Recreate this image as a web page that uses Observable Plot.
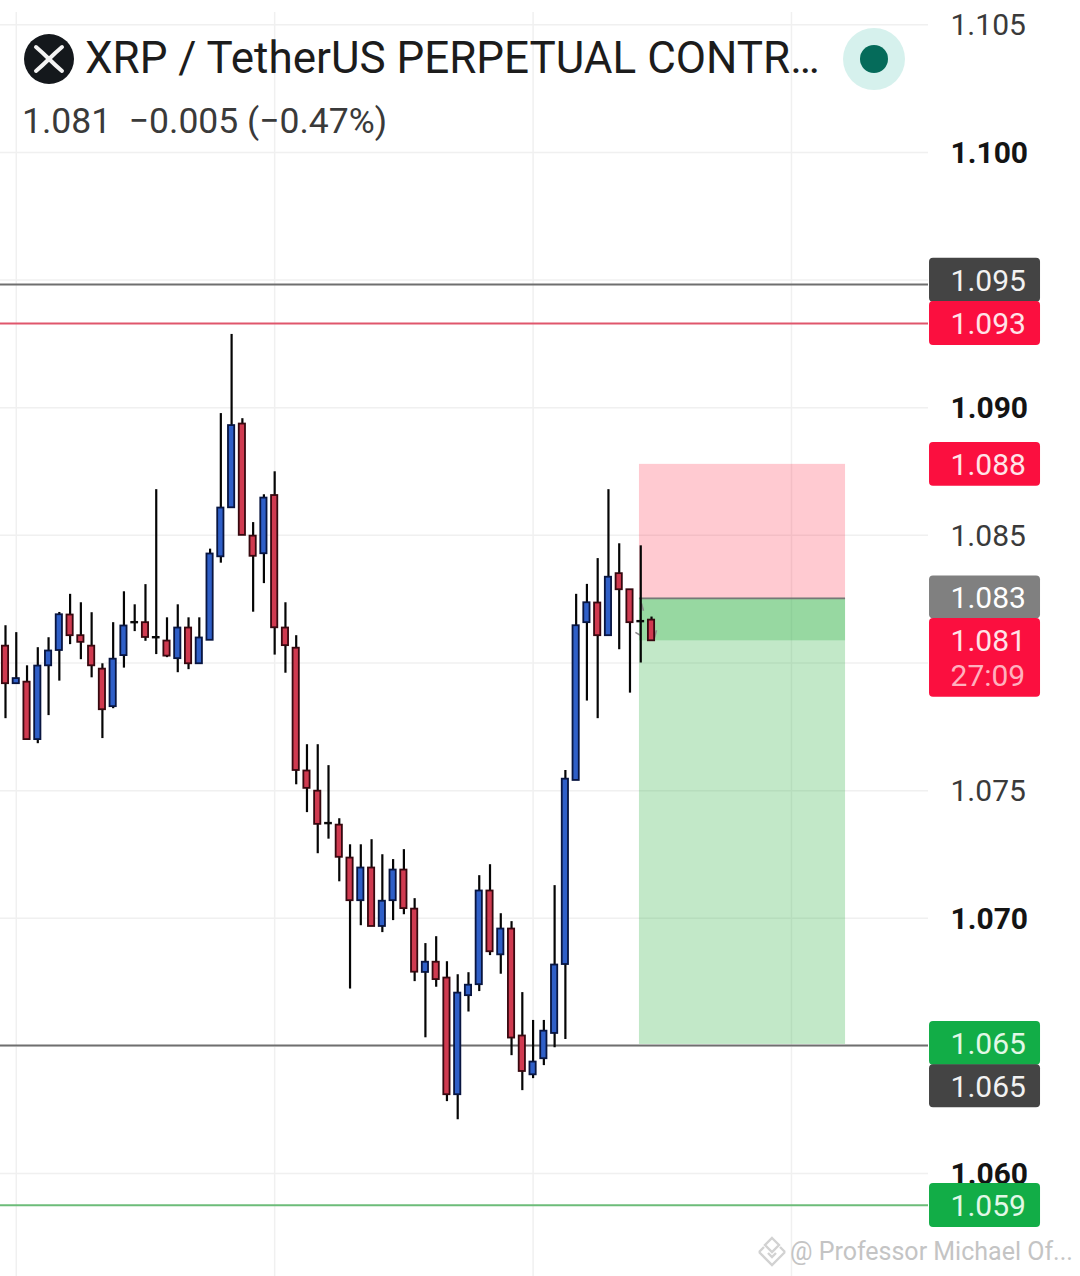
<!DOCTYPE html>
<html>
<head>
<meta charset="utf-8">
<script src="https://cdn.jsdelivr.net/npm/d3@7"></script>
<script src="https://cdn.jsdelivr.net/npm/@observablehq/plot@0.6"></script>
<style>
  html, body { margin: 0; padding: 0; background: #fff; }
  #wrap { position: relative; width: 1080px; height: 1276px; overflow: hidden; font-family: Roboto, sans-serif; }
  #chart svg { display: block; }
  .abs { position: absolute; white-space: pre; }
</style>
</head>
<body>
<div id="wrap">
  <div id="chart"></div>
  <svg class="abs" style="left:23px;top:33px" width="52" height="52" viewBox="0 0 52 52">
    <circle cx="26" cy="26" r="25" fill="#14181c"/>
    <path d="M13 14 Q20 20 26 26 Q32 20 39 14 M13 38 Q20 32 26 26 Q32 32 39 38" fill="none" stroke="#f4f4f4" stroke-width="4" stroke-linecap="round"/>
  </svg>
  <div class="abs" id="title" style="left:85px;top:31px;font-size:44px;line-height:54px;color:#1c1c1c">XRP / TetherUS PERPETUAL CONTR…</div>
  <div class="abs" id="sub" style="left:22px;top:100px;font-size:35.5px;line-height:42px;color:#3a3a3a">1.081  −0.005 (−0.47%)</div>
  <svg class="abs" style="left:843px;top:28px" width="62" height="62">
    <circle cx="31" cy="31" r="31" fill="#d6f1ed"/>
    <circle cx="31" cy="31" r="14" fill="#056b5a"/>
  </svg>
  <svg class="abs" style="left:756px;top:1236px" width="32" height="32" viewBox="0 0 32 32" fill="none" stroke="#d2d2d2" stroke-width="2.4">
    <path d="M16 2 L23 9 L16 16 L9 9 Z"/><path d="M3 16 L8 11 M29 16 L24 11 M3 16 L16 29 L29 16"/><path d="M12 17 L16 21 L20 17"/>
  </svg>
  <div class="abs" id="mark" style="left:790px;top:1237px;font-size:25px;line-height:30px;color:#c4c4c4">@ Professor Michael Of...</div>
</div>
<script>
const open = [1.08066,1.07919,1.07925,1.07700,1.07989,1.08049,1.08188,1.08107,1.08066,1.07976,
  1.07829,1.08029,1.08160,1.08158,1.08101,1.08086,1.08017,1.08137,1.07997,1.08089,
  1.08416,1.08608,1.08936,1.08497,1.08428,1.08656,1.08137,1.08058,1.07577,1.07498,
  1.07373,1.07365,1.07236,1.07069,1.07197,1.06968,1.07069,1.07189,1.07036,1.06788,
  1.06828,1.06766,1.06309,1.06697,1.06740,1.07107,1.06857,1.06958,1.06539,1.06387,
  1.06450,1.06549,1.06819,1.07540,1.08158,1.08235,1.08107,1.08350,1.08287,1.08164,1.08168];
const close = [1.07919,1.07939,1.07700,1.07988,1.08047,1.08189,1.08107,1.08081,1.07989,1.07817,
  1.08015,1.08145,1.08160,1.08100,1.08101,1.08027,1.08137,1.07997,1.08098,1.08427,
  1.08607,1.08930,1.08500,1.08418,1.08646,1.08138,1.08068,1.07579,1.07509,1.07368,
  1.07373,1.07239,1.07069,1.07197,1.06968,1.07067,1.07189,1.07038,1.06789,1.06828,
  1.06760,1.06309,1.06707,1.06738,1.07107,1.06869,1.06958,1.06531,1.06400,1.06437,
  1.06558,1.06817,1.07545,1.08146,1.08236,1.08107,1.08336,1.08287,1.08158,1.08164,1.08087];
const high = [1.08146,1.08119,1.07989,1.08060,1.08099,1.08198,1.08269,1.08236,1.08197,1.07997,
  1.08158,1.08279,1.08228,1.08307,1.08679,1.08177,1.08228,1.08177,1.08177,1.08446,
  1.08977,1.09287,1.08957,1.08550,1.08659,1.08749,1.08236,1.08107,1.07680,1.07680,
  1.07598,1.07390,1.07288,1.07288,1.07308,1.07249,1.07230,1.07269,1.07077,1.06901,
  1.06928,1.06830,1.06779,1.06787,1.07167,1.07210,1.07018,1.06987,1.06709,1.06600,
  1.06600,1.07128,1.07579,1.08269,1.08308,1.08409,1.08679,1.08467,1.08287,1.08459,1.08180];
const low = [1.07782,1.07919,1.07700,1.07684,1.07794,1.07929,1.08072,1.08013,1.07942,1.07704,
  1.07821,1.07980,1.08123,1.08085,1.08033,1.08021,1.07962,1.07974,1.07995,1.08089,
  1.08391,1.08608,1.08500,1.08199,1.08311,1.08031,1.07960,1.07523,1.07414,1.07253,
  1.07310,1.07143,1.06723,1.06971,1.06968,1.06944,1.06991,1.07014,1.06752,1.06532,
  1.06730,1.06282,1.06211,1.06633,1.06713,1.06854,1.06781,1.06462,1.06325,1.06372,
  1.06423,1.06493,1.06525,1.07540,1.07851,1.07782,1.08107,1.08052,1.07882,1.08000,1.08087];

const regularTicks = [1.105, 1.085, 1.075];
const boldTicks = [1.100, 1.090, 1.070, 1.060];
const gridPrices = [1.105, 1.100, 1.095, 1.090, 1.085, 1.080, 1.075, 1.070, 1.065, 1.060];
const gridBars = [1, 25, 49, 73];

const linePrices = [1.09483, 1.09330, 1.06502, 1.05876];
const lineKinds = ["dark", "red", "dark", "green"];

const tagLabels = ["1.095", "1.093", "1.088", "1.083", "1.081", "1.065", "1.065", "1.059"];
const tagPrices = [1.09499, 1.09330, 1.08778, 1.08257, 1.08020, 1.06510, 1.06342, 1.05875];
const tagSpans  = [0.00172, 0.00172, 0.00172, 0.00168, 0.00309, 0.00172, 0.00168, 0.00172];
const tagKinds  = ["dark", "red", "red", "gray", "red", "green", "dark", "green"];

// long position tool: stop, entry, target, last price, and its first/last bar
const positionStop = 1.08778, positionEntry = 1.08253, positionTarget = 1.06506, lastPrice = 1.08087;
const positionBars = [58.88, 78.02];
const countdown = {label: "27:09", price: 1.07952};

// faint arrow strokes behind the last candles
const arrowFromBar = [58.5, 59.07, 60.46];
const arrowToBar = [59.0, 59.25, 60.28];
const arrowFromPrice = [1.08120, 1.08233, 1.08128];
const arrowToPrice = [1.08108, 1.08205, 1.08100];

// ---- styles and assembly ----
const tagFill = {dark: "#444444", red: "#fb0f3f", gray: "#808080", green: "#12ad47"};
const lineStroke = {dark: "#6f6f6f", red: "#e0566c", green: "#6cbc79"};
const tagTextFill = {dark: "#f2f2f2", red: "#ffe3e8", gray: "#ffffff", green: "#e2f8e6"};

const candles = open.map((o, i) => ({i, open: o, close: close[i], high: high[i], low: low[i]}));
const bodies = candles.filter(d => d.open !== d.close);
const dojis = candles.filter(d => d.open === d.close);
const lines = linePrices.map((p, i) => ({p, kind: lineKinds[i]}));
const tags = tagLabels.map((label, i) => ({label, p: tagPrices[i], span: tagSpans[i], kind: tagKinds[i]}));
const arrows = arrowFromBar.map((x1, i) => ({x1, x2: arrowToBar[i], y1: arrowFromPrice[i], y2: arrowToPrice[i]}));

const tagLeft = 85.82, tagRight = 96.13, halfBody = 0.29;
const tagTextShift = 22, tagTextDrop = 1;

const plot = Plot.plot({
  width: 1080, height: 1276,
  marginLeft: 0, marginRight: 152, marginTop: 0, marginBottom: 0,
  style: {fontFamily: "Roboto, sans-serif", background: "transparent", overflow: "visible"},
  x: {domain: [-0.464, 85.725], axis: null},
  y: {domain: [1.05597, 1.10595], axis: null},
  marks: [
    Plot.ruleY(gridPrices, {stroke: "#f0f0f0", strokeWidth: 1.5}),
    Plot.ruleX(gridBars, {y1: 1.05597, y2: 1.10548, stroke: "#f0f0f0", strokeWidth: 1.5}),
    Plot.rect([0], {x1: positionBars[0], x2: positionBars[1], y1: positionEntry, y2: positionStop, fill: "#ff1a3a", fillOpacity: 0.23}),
    Plot.rect([0], {x1: positionBars[0], x2: positionBars[1], y1: positionTarget, y2: positionEntry, fill: "#34b34a", fillOpacity: 0.3}),
    Plot.rect([0], {x1: positionBars[0], x2: positionBars[1], y1: lastPrice, y2: positionEntry, fill: "#34b34a", fillOpacity: 0.3}),
    Plot.ruleY([positionEntry], {x1: positionBars[0], x2: positionBars[1], stroke: "#777", strokeWidth: 1.8}),
    Plot.link(arrows, {x1: "x1", x2: "x2", y1: "y1", y2: "y2", stroke: "#8a8a8a", strokeWidth: 1.6}),
    Plot.ruleY(lines, {y: "p", stroke: d => lineStroke[d.kind], strokeWidth: 2}),
    Plot.ruleX(candles, {x: "i", y1: "low", y2: "high", stroke: "#050505", strokeWidth: 2.2}),
    Plot.rect(bodies, {
      x1: d => d.i - halfBody, x2: d => d.i + halfBody,
      y1: "open", y2: "close",
      fill: d => d.close > d.open ? "#2f5fc8" : "#d03a50",
      stroke: d => d.close > d.open ? "#081540" : "#36080f",
      strokeWidth: 1.8
    }),
    Plot.ruleY(dojis, {
      y: "open", x1: d => d.i - 0.36, x2: d => d.i + 0.36,
      stroke: "#0a0a0a", strokeWidth: 2.4
    }),
    Plot.axisY(regularTicks, {anchor: "right", tickSize: 0, tickPadding: tagTextShift, dy: tagTextDrop, tickFormat: ".3f", fontSize: 30, label: null, fill: "#3a3a3a"}),
    Plot.axisY(boldTicks, {anchor: "right", tickSize: 0, tickPadding: tagTextShift, dy: tagTextDrop, tickFormat: ".3f", fontSize: 30, fontWeight: 700, label: null, fill: "#141414"}),
    Plot.rect(tags, {
      x1: tagLeft, x2: tagRight,
      y1: d => d.p - d.span / 2, y2: d => d.p + d.span / 2,
      fill: d => tagFill[d.kind], rx: 4
    }),
    Plot.text(tags.filter(d => d.label !== "1.081"), {
      x: tagLeft, y: "p", text: "label", dx: tagTextShift - 1, dy: tagTextDrop, textAnchor: "start",
      fontSize: 30, fill: d => tagTextFill[d.kind], lineAnchor: "middle"
    }),
    Plot.text(["1.081"], {
      x: tagLeft, y: lastPrice, text: d => d, dx: tagTextShift - 1, dy: tagTextDrop, textAnchor: "start",
      fontSize: 30, fill: "#ffe3e8", lineAnchor: "middle"
    }),
    Plot.text([countdown], {
      x: tagLeft, y: "price", text: "label", dx: tagTextShift - 1, dy: tagTextDrop, textAnchor: "start",
      fontSize: 30, fill: "#ffb0be", lineAnchor: "middle"
    })
  ]
});
document.getElementById("chart").appendChild(plot);
</script>
</body>
</html>
